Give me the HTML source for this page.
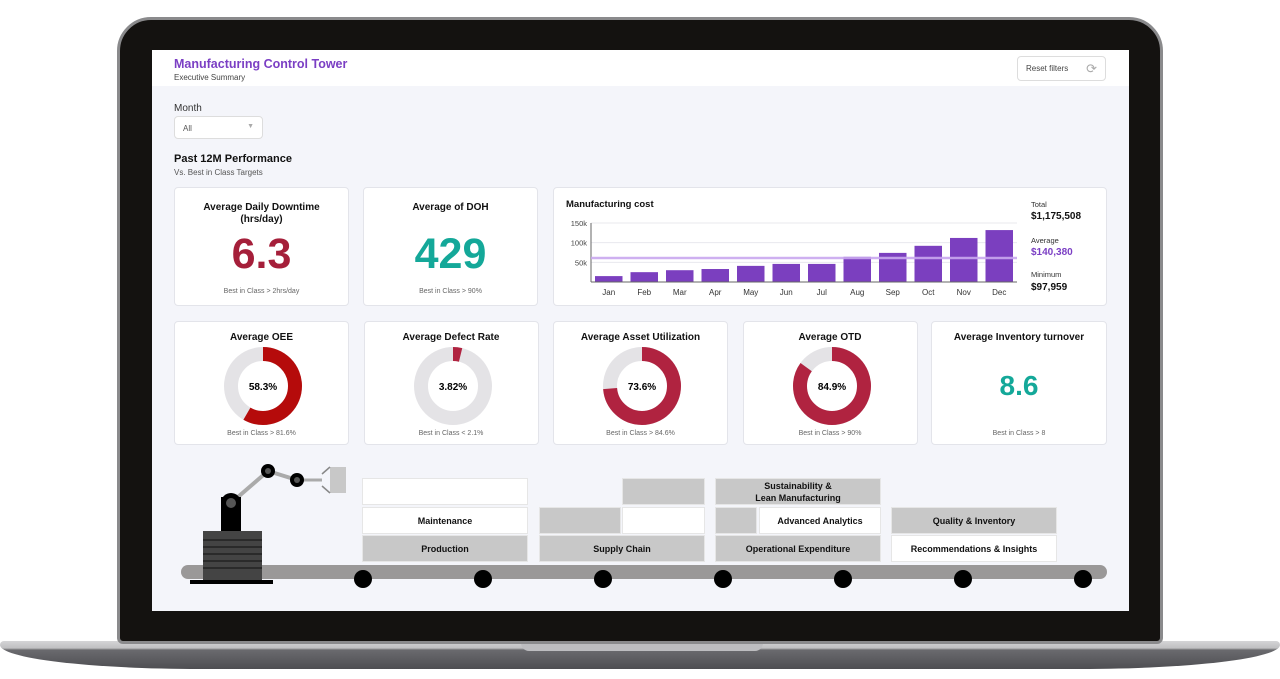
<!DOCTYPE html>
<html><head><meta charset="utf-8"><style>
*{box-sizing:border-box;margin:0;padding:0}
body{width:1280px;height:679px;background:#fff;position:relative;overflow:hidden;font-family:"Liberation Sans",sans-serif;color:#111}
.a{position:absolute}
.card{position:absolute;background:#fff;border:1px solid #e3e4ea;border-radius:4px}
.t{position:absolute;left:0;right:0;text-align:center;font-weight:bold;font-size:10px}
.bic{position:absolute;left:0;right:0;text-align:center;font-size:7px;color:#666}
.box{position:absolute;display:flex;align-items:center;justify-content:center;font-size:9px;font-weight:bold;text-align:center;line-height:12px;border:1px solid #e6e6e6}
.g{background:#c8c8c8}.w{background:#fff}
</style></head><body>
<div class="a" style="left:0;top:641px;width:1280px;height:28px;background:linear-gradient(#d4d4d6 0,#c0c0c2 7px,#6a6a6e 9px,#4e4e52 100%);border-radius:4px 4px 200px 200px/4px 4px 24px 24px"></div>
<div class="a" style="left:521px;top:641px;width:242px;height:10px;background:#bdbdc0;border-radius:0 0 8px 8px"></div>
<div class="a" style="left:117px;top:17px;width:1046px;height:627px;background:#141210;border:3px solid #8a8a8c;border-radius:34px 34px 6px 6px"></div>
<div class="a" style="left:152px;top:50px;width:977px;height:561px;background:#f4f5fa;overflow:hidden">
 <div class="a" style="left:0;top:0;width:977px;height:36px;background:#fff"></div>
 <div class="a" style="left:22px;top:7px;font-size:12.5px;font-weight:bold;color:#7b3fc4">Manufacturing Control Tower</div>
 <div class="a" style="left:22px;top:23px;font-size:8px;color:#444">Executive Summary</div>
 <div class="a" style="left:865px;top:6px;width:89px;height:25px;border:1px solid #ddd;border-radius:4px;background:#fff;font-size:8px;color:#444;padding:7px 0 0 8px">Reset filters <span style="position:absolute;right:8px;top:4px;font-size:13px;color:#aaa">⟳</span></div>
 <div class="a" style="left:22px;top:53px;font-size:10px;color:#333">Month</div>
 <div class="a" style="left:22px;top:66px;width:89px;height:23px;border:1px solid #ddd;border-radius:4px;background:#fff;font-size:8px;color:#555;padding:7px 0 0 8px">All<span style="position:absolute;right:8px;top:6px;color:#aaa;font-size:7px">▼</span></div>
 <div class="a" style="left:22px;top:103px;font-size:11px;font-weight:bold">Past 12M Performance</div>
 <div class="a" style="left:22px;top:118px;font-size:8px;color:#555">Vs. Best in Class Targets</div>

 <div class="card" style="left:22px;top:137px;width:175px;height:119px">
  <div class="t" style="top:14px;line-height:12px">Average Daily Downtime<br>(hrs/day)</div>
  <div class="t" style="top:42px;font-size:43px;color:#a51f3a">6.3</div>
  <div class="bic" style="top:100px">Best in Class &gt; 2hrs/day</div></div>
 <div class="card" style="left:211px;top:137px;width:175px;height:119px">
  <div class="t" style="top:14px">Average of DOH</div>
  <div class="t" style="top:42px;font-size:43px;color:#14a899">429</div>
  <div class="bic" style="top:100px">Best in Class &gt; 90%</div></div>
 <div class="card" style="left:401px;top:137px;width:554px;height:119px">
  <div class="a" style="left:12px;top:11px;font-size:9.5px;font-weight:bold">Manufacturing cost</div>
  <svg class="a" id="chart" style="left:0;top:0" width="554" height="119"></svg>
  <div class="a" style="left:477px;top:12px;font-size:7.5px;color:#333">Total</div>
  <div class="a" style="left:477px;top:23px;font-size:10px;font-weight:bold">$1,175,508</div>
  <div class="a" style="left:477px;top:48px;font-size:7.5px;color:#333">Average</div>
  <div class="a" style="left:477px;top:59px;font-size:10px;font-weight:bold;color:#7b3fc4">$140,380</div>
  <div class="a" style="left:477px;top:82px;font-size:7.5px;color:#333">Minimum</div>
  <div class="a" style="left:477px;top:94px;font-size:10px;font-weight:bold">$97,959</div>
 </div>
 <div id="donuts"></div>
 <div class="card" style="left:779px;top:271px;width:176px;height:124px">
  <div class="t" style="top:10px">Average Inventory turnover</div>
  <div class="t" style="top:48px;font-size:28px;color:#14a899">8.6</div>
  <div class="bic" style="top:108px">Best in Class &gt; 8</div></div>

 <svg class="a" style="left:0;top:0" width="977" height="561">
  <rect x="29" y="515" width="926" height="14" rx="7" fill="#9a9898"/>
  <g fill="#000"><circle cx="211" cy="529" r="9"/><circle cx="331" cy="529" r="9"/><circle cx="451" cy="529" r="9"/><circle cx="571" cy="529" r="9"/><circle cx="691" cy="529" r="9"/><circle cx="811" cy="529" r="9"/><circle cx="931" cy="529" r="9"/></g>
  <line x1="79" y1="453" x2="116" y2="421" stroke="#aaa" stroke-width="4"/>
  <line x1="116" y1="421" x2="145" y2="430" stroke="#aaa" stroke-width="4"/>
  <line x1="145" y1="430" x2="170" y2="430" stroke="#aaa" stroke-width="3"/>
  <rect x="69" y="447" width="20" height="36" fill="#000"/>
  <circle cx="79" cy="453" r="10" fill="#000"/><circle cx="79" cy="453" r="5" fill="#555"/>
  <circle cx="116" cy="421" r="7" fill="#000"/><circle cx="116" cy="421" r="3" fill="#555"/>
  <circle cx="145" cy="430" r="7" fill="#000"/><circle cx="145" cy="430" r="3" fill="#555"/>
  <rect x="178" y="417" width="16" height="26" fill="#c8c8c8"/>
  <path d="M170 424 L178 417 M170 436 L178 443" stroke="#888" stroke-width="1.5"/>
  <rect x="51" y="481" width="59" height="50" fill="#444"/>
  <g stroke="#222" stroke-width="1.5"><line x1="51" y1="490" x2="110" y2="490"/><line x1="51" y1="497" x2="110" y2="497"/><line x1="51" y1="504" x2="110" y2="504"/><line x1="51" y1="511" x2="110" y2="511"/><line x1="51" y1="518" x2="110" y2="518"/></g>
  <rect x="38" y="530" width="83" height="4" fill="#000"/>
 </svg>
 <div class="box w" style="left:210px;top:428px;width:166px;height:27px"></div>
 <div class="box w" style="left:210px;top:457px;width:166px;height:27px">Maintenance</div>
 <div class="box g" style="left:210px;top:485px;width:166px;height:27px">Production</div>
 <div class="box g" style="left:387px;top:457px;width:82px;height:27px"></div>
 <div class="box g" style="left:470px;top:428px;width:83px;height:27px"></div>
 <div class="box w" style="left:470px;top:457px;width:83px;height:27px"></div>
 <div class="box g" style="left:387px;top:485px;width:166px;height:27px">Supply Chain</div>
 <div class="box g" style="left:563px;top:428px;width:166px;height:27px">Sustainability &amp;<br>Lean Manufacturing</div>
 <div class="box g" style="left:563px;top:457px;width:42px;height:27px"></div>
 <div class="box w" style="left:607px;top:457px;width:122px;height:27px">Advanced Analytics</div>
 <div class="box g" style="left:563px;top:485px;width:166px;height:27px">Operational Expenditure</div>
 <div class="box g" style="left:739px;top:457px;width:166px;height:27px">Quality &amp; Inventory</div>
 <div class="box w" style="left:739px;top:485px;width:166px;height:27px">Recommendations &amp; Insights</div>
</div>
<script>
const months=["Jan","Feb","Mar","Apr","May","Jun","Jul","Aug","Sep","Oct","Nov","Dec"];
const costK=[15,25,30,33,41,46,46,64,74,92,112,132];
const avgK=61;
const yTicks=[50,100,150];
const kpiTitles=["Average OEE","Average Defect Rate","Average Asset Utilization","Average OTD"];
const kpiValues=[58.3,3.82,73.6,84.9];
const kpiLabels=["58.3%","3.82%","73.6%","84.9%"];
const kpiTargets=["Best in Class > 81.6%","Best in Class < 2.1%","Best in Class > 84.6%","Best in Class > 90%"];
const NS="http://www.w3.org/2000/svg";
const svg=document.getElementById('chart');
const x0=37,x1=463,yb=94,yt=35,maxV=150;
const y=v=>yb-(v/maxV)*(yb-yt);
const bw=(x1-x0)/months.length;
function mk(t,a){const e=document.createElementNS(NS,t);for(const k in a)e.setAttribute(k,a[k]);svg.appendChild(e);return e;}
yTicks.forEach(v=>{const l=mk('line',{x1:x0,x2:x1,y1:y(v),y2:y(v),stroke:'#e8e8ee'});


const t=mk('text',{x:x0-4,y:y(v)+3,'text-anchor':'end','font-size':'7.5','fill':'#444'});t.textContent=v+'k';

});
months.forEach((m,i)=>{const b=mk('rect',{x:x0+i*bw+4,y:y(costK[i]),width:bw-8,height:yb-y(costK[i]),fill:'#7b3fbf'});


const t=mk('text',{x:x0+i*bw+bw/2,y:yb+13,'text-anchor':'middle','font-size':'8','fill':'#333'});t.textContent=m;

});
const ax=mk('line',{x1:x0,x2:x0,y1:yt,y2:yb,stroke:'#666'});


const bx=mk('line',{x1:x0,x2:x1,y1:yb,y2:yb,stroke:'#666'});


const al=mk('line',{x1:x0,x2:x1,y1:y(avgK),y2:y(avgK),stroke:'#c9a8ef','stroke-width':2.5,opacity:0.9});


const host=document.getElementById('donuts');
const cols=["#b50b0b","#b02340","#b02340","#b02340"];
kpiTitles.forEach((tt,i)=>{
 const c=document.createElement('div');c.className='card';
 
 
 c.style.cssText=`left:${22+i*189.5}px;top:271px;width:175px;height:124px`;
 const r=32,C=2*Math.PI*r,v=kpiValues[i]/100;
 c.innerHTML=`<div class="t" style="top:10px">${tt}</div>
 <svg class="a" style="left:48px;top:24px" width="80" height="80"><circle cx="40" cy="40" r="${r}" fill="none" stroke="#e4e3e6" stroke-width="14"/>
 <circle cx="40" cy="40" r="${r}" fill="none" stroke="${cols[i]}" stroke-width="14" stroke-dasharray="${C*v} ${C}" transform="rotate(-90 40 40)"/>
 <text x="40" y="44" text-anchor="middle" font-size="10" font-weight="bold" font-family="Liberation Sans">${kpiLabels[i]}</text></svg>
 <div class="bic" style="top:108px">${kpiTargets[i].replace('>','&gt;').replace('<','&lt;')}</div>`;
 host.appendChild(c);
});
</script>
</body></html>
